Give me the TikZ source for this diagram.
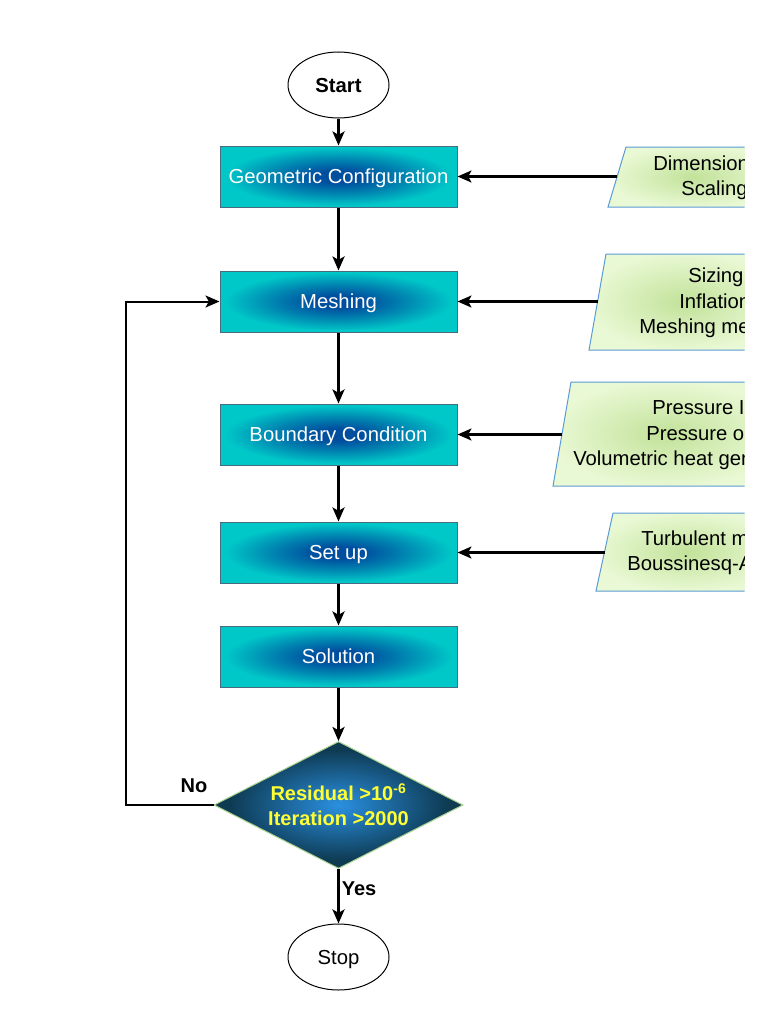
\documentclass[tikz,border=0pt]{standalone}
\usepackage{fontspec}
\setmainfont{Liberation Sans}
\usetikzlibrary{shapes.geometric,arrows.meta}
\definecolor{boxcyan}{HTML}{00C8C8}
\definecolor{boxblue}{HTML}{004E9E}
\definecolor{boxborder}{HTML}{4A6A80}
\definecolor{diadark}{HTML}{0E3A52}
\definecolor{dialight}{HTML}{2A90E0}
\definecolor{diaborder}{HTML}{A8D08D}
\definecolor{paraout}{HTML}{EAF9D5}
\definecolor{parain}{HTML}{C2E29A}
\definecolor{paraborder}{HTML}{5B9BD5}
\definecolor{decyellow}{HTML}{FFFF33}
\pgfdeclareradialshading{boxshade}{\pgfpoint{0bp}{0bp}}{color(0bp)=(boxblue); color(5bp)=(boxblue); color(14bp)=(boxblue!55!boxcyan); color(24bp)=(boxcyan); color(50bp)=(boxcyan)}
\pgfdeclareradialshading{diashade}{\pgfpoint{0bp}{0bp}}{color(0bp)=(dialight); color(22bp)=(diadark); color(50bp)=(diadark)}
\pgfdeclareradialshading{parashade}{\pgfpoint{0bp}{0bp}}{color(0bp)=(parain); color(26bp)=(paraout); color(50bp)=(paraout)}
\begin{document}
\begin{tikzpicture}[x=0.75pt,y=-0.75pt,
  txt/.style={font=\fontsize{15.2}{18}\selectfont},
  proc/.style={rectangle, draw=boxborder, line width=0.75pt, minimum width=177.75pt, minimum height=45.75pt, inner sep=0pt, text height=10.9pt, text depth=0pt, shade, shading=boxshade, text=white, txt},
  term/.style={ellipse, draw=black, line width=0.75pt, fill=white, minimum width=75.75pt, minimum height=49.5pt, inner sep=0pt, text height=10.9pt, text depth=0pt, txt},
  decision/.style={diamond, aspect=1.96, draw=diaborder, line width=0.75pt, minimum width=186.75pt, minimum height=95.25pt, inner sep=0pt, shade, shading=diashade, text=decyellow, font=\fontsize{15}{18.75}\selectfont\bfseries, align=center},
  para/.style={draw=paraborder, line width=0.75pt, shade, shading=parashade},
  paratext/.style={anchor=base west, inner sep=0pt, txt},
  flow/.style={line width=2pt, -{Stealth[length=10.5pt,width=9pt,inset=2.5pt]}},
  feed/.style={line width=1.75pt, -{Stealth[length=10.5pt,width=9pt,inset=2.5pt]}},
  back/.style={line width=1.5pt, -{Stealth[length=10.5pt,width=9pt,inset=2.5pt]}},
  lbl/.style={inner sep=0pt, font=\fontsize{15}{18}\selectfont\bfseries}
]
\useasboundingbox (0,0) rectangle (768,1024);
\fill[white] (0,0) rectangle (768,1024);

% main flow
\node[term, font=\fontsize{15.2}{18}\selectfont\bfseries] (start) at (338.5,85) {Start};
\node[proc] (geo) at (338.5,176.5) {Geometric Configuration};
\node[proc] (mesh) at (338.5,301.5) {Meshing};
\node[proc] (bc) at (338.5,434.5) {Boundary Condition};
\node[proc] (setup) at (338.5,552.5) {Set up};
\node[proc] (sol) at (338.5,656.5) {Solution};
\node[decision] (dec) at (338.5,805) {Residual >10\textsuperscript{-6}\\Iteration >2000};
\node[term] (stop) at (338.5,957) {Stop};

% parallelograms (cut at right edge)
\begin{scope}
\clip (0,0) rectangle (744.5,1024);
\path[para] (626,147) -- (780,147) -- (780,207) -- (608,207) -- cycle;
\path[para] (606,254) -- (780,254) -- (780,350) -- (589,350) -- cycle;
\path[para] (571,382) -- (780,382) -- (780,486) -- (553,486) -- cycle;
\path[para] (613,513) -- (780,513) -- (780,591) -- (596,591) -- cycle;
\node[paratext] (t1a) at (653,170) {Dimensioning};
\node[paratext] (t1b) at (681,195.5) {Scaling};
\node[paratext] (t2a) at (688,282) {Sizing};
\node[paratext] (t2b) at (679,308) {Inflation};
\node[paratext] (t2c) at (639,333.5) {Meshing method};
\node[paratext] (t3a) at (652,414) {Pressure Inlet};
\node[paratext] (t3b) at (646,440) {Pressure outlet};
\node[paratext] (t3c) at (573,465.5) {Volumetric heat generation};
\node[paratext] (t4a) at (641,545.5) {Turbulent model};
\node[paratext] (t4b) at (627,570.5) {Boussinesq-Approximation};
\end{scope}
\coordinate (p1) at (617,176.5);
\coordinate (p2) at (598,301.5);
\coordinate (p3) at (562,434.5);
\coordinate (p4) at (604.5,552.5);

% connectors
\draw[flow] (start) -- (geo);
\draw[flow] (geo) -- (mesh);
\draw[flow] (mesh) -- (bc);
\draw[flow] (bc) -- (setup);
\draw[flow] (setup) -- (sol);
\draw[flow] (sol) -- (dec);
\draw[flow] (dec) -- (stop);
\draw[feed] (p1) -- (geo.east);
\draw[feed] (p2) -- (mesh.east);
\draw[feed] (p3) -- (bc.east);
\draw[feed] (p4) -- (setup.east);
\coordinate (loopc) at (126,805);
\draw[back] (dec.west) -- (loopc) |- (mesh.west);

% labels
\node[lbl] (no) at (194,786) {No};
\node[lbl] (yes) at (359,889) {Yes};
\end{tikzpicture}
\end{document}
